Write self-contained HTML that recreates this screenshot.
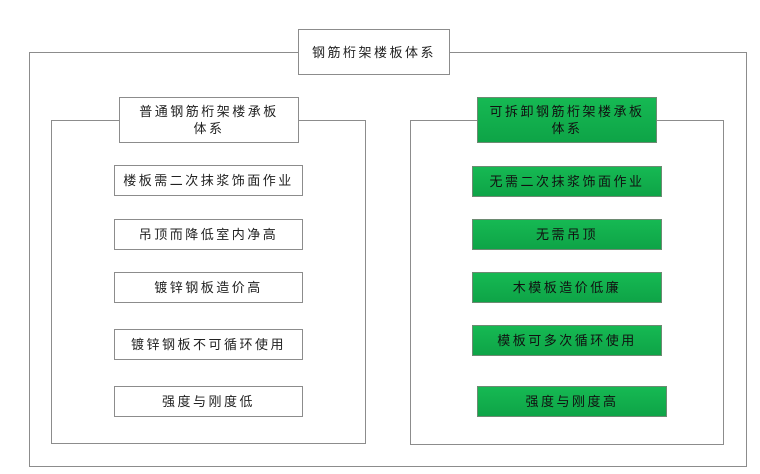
<!DOCTYPE html>
<html><head><meta charset="utf-8"><style>
body{margin:0;width:760px;height:474px;background:#fff;position:relative;overflow:hidden;font-family:"Liberation Sans","Noto Sans CJK SC",sans-serif;}
.b{position:absolute;box-sizing:border-box;border:1px solid #8c8c8c;background:#fff;display:flex;align-items:center;justify-content:center;text-align:center;font-size:13px;letter-spacing:2.5px;color:#222;line-height:17px;}
.f{background:none;}
.g{background:linear-gradient(#16b953,#0ea447);border-color:#6d8a72;color:#111;}
</style></head><body>
<div class="b f" style="left:29px;top:52px;width:718px;height:415px;"></div>
<div class="b" style="left:298px;top:29px;width:152px;height:46px;">钢筋桁架楼板体系</div>
<div class="b f" style="left:51px;top:120px;width:315px;height:324px;"></div>
<div class="b" style="left:119px;top:97px;width:180px;height:46px;">普通钢筋桁架楼承板<br>体系</div>
<div class="b" style="left:114px;top:165px;width:189px;height:31px;">楼板需二次抹浆饰面作业</div>
<div class="b" style="left:114px;top:219px;width:189px;height:31px;">吊顶而降低室内净高</div>
<div class="b" style="left:114px;top:272px;width:189px;height:31px;">镀锌钢板造价高</div>
<div class="b" style="left:114px;top:329px;width:189px;height:31px;">镀锌钢板不可循环使用</div>
<div class="b" style="left:114px;top:386px;width:189px;height:31px;">强度与刚度低</div>
<div class="b f" style="left:410px;top:120px;width:314px;height:325px;"></div>
<div class="b g" style="left:477px;top:97px;width:180px;height:46px;">可拆卸钢筋桁架楼承板<br>体系</div>
<div class="b g" style="left:472px;top:166px;width:190px;height:31px;">无需二次抹浆饰面作业</div>
<div class="b g" style="left:472px;top:219px;width:190px;height:31px;">无需吊顶</div>
<div class="b g" style="left:472px;top:272px;width:190px;height:31px;">木模板造价低廉</div>
<div class="b g" style="left:472px;top:325px;width:190px;height:31px;">模板可多次循环使用</div>
<div class="b g" style="left:477px;top:386px;width:190px;height:31px;">强度与刚度高</div>
</body></html>
